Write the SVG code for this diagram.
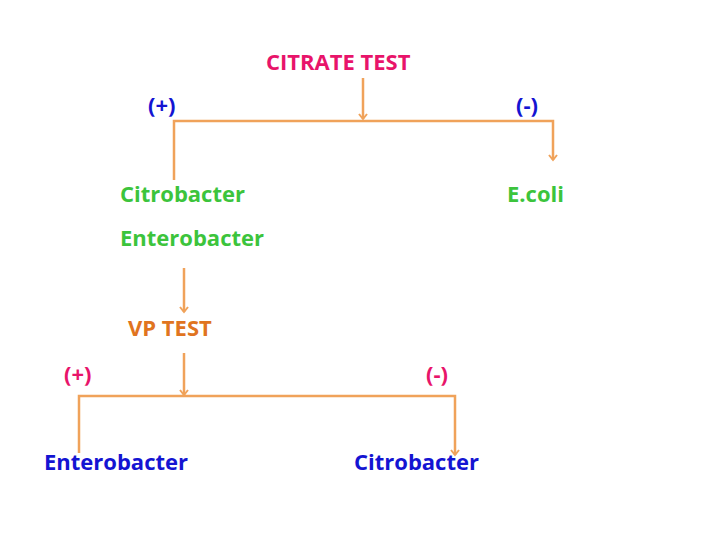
<svg xmlns="http://www.w3.org/2000/svg" width="720" height="540" viewBox="0 0 720 540">
<style>
text{font-family:"Open Sans",Lato,"Liberation Sans",sans-serif;font-weight:bold;font-size:22px}
.pk{fill:#e8146a}.bl{fill:#1414d2}.gr{fill:#3cc43c}.or{fill:#e07420}
.c{stroke:#f0a25a;stroke-width:2.5;fill:none}
</style>
<defs><marker id="a" markerWidth="10" markerHeight="10" refX="8" refY="5" orient="auto" markerUnits="userSpaceOnUse" viewBox="0 0 10 10"><path d="M3,1 L8,5 L3,9" fill="none" stroke="#f0a25a" stroke-width="2"/></marker></defs>
<rect width="720" height="540" fill="#fff"/>
<g id="connectors">
<path class="c" d="M363,78 V119" marker-end="url(#a)"/>
<path class="c" d="M174,180 V121 H553 V160" marker-end="url(#a)"/>
<path class="c" d="M184,268 V312" marker-end="url(#a)"/>
<path class="c" d="M184,353 V395" marker-end="url(#a)"/>
<path class="c" d="M79,453 V396 H455 V455" marker-end="url(#a)"/>
</g>
<g id="citrate"><text x="266" y="70" class="pk">CITRATE TEST</text></g>
<g id="pos1"><text x="148" y="113" class="bl">(+)</text></g>
<g id="neg1"><text x="516" y="113" class="bl">(-)</text></g>
<g id="citro-entero"><text x="120" y="202" class="gr">Citrobacter</text><text x="120" y="246" class="gr">Enterobacter</text></g>
<g id="ecoli"><text x="507" y="202" class="gr">E.coli</text></g>
<g id="vp"><text x="128" y="336" class="or">VP TEST</text></g>
<g id="pos2"><text x="64" y="382" class="pk">(+)</text></g>
<g id="neg2"><text x="426" y="382" class="pk">(-)</text></g>
<g id="entero"><text x="44" y="470" class="bl">Enterobacter</text></g>
<g id="citro"><text x="354" y="470" class="bl">Citrobacter</text></g>
</svg>
